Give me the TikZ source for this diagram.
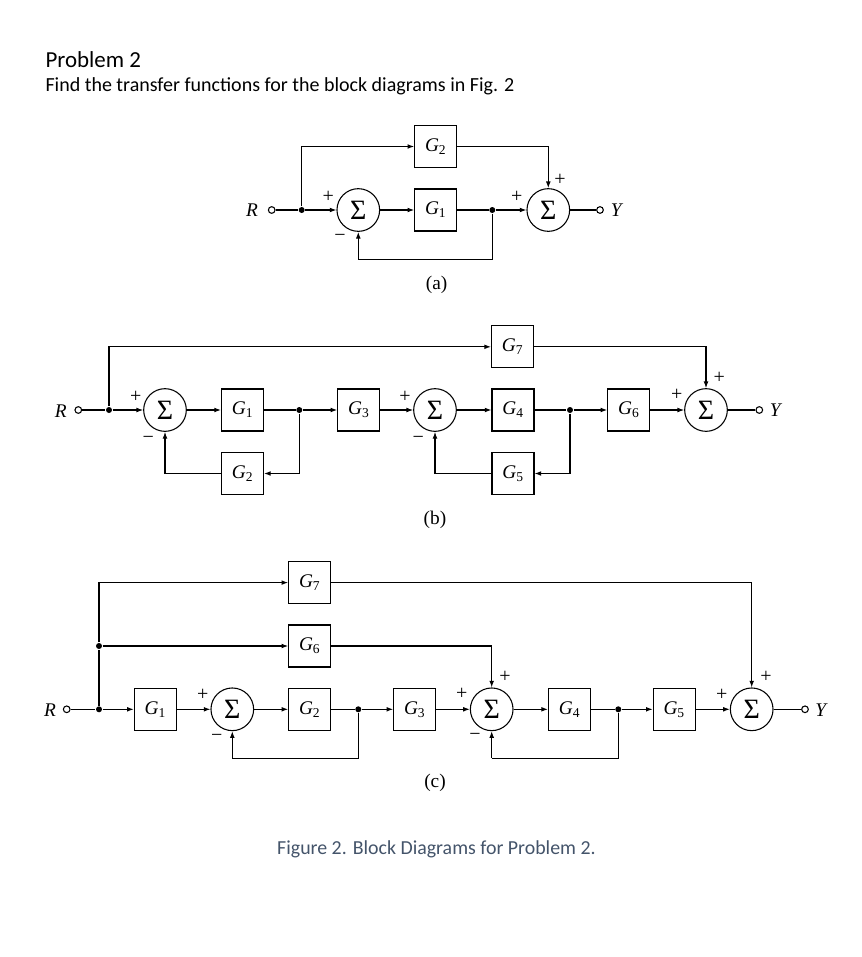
\documentclass[tikz,border=0pt]{standalone}
\usepackage{fontspec}
\setmainfont{Carlito}
\newfontfamily\tms{Liberation Serif}
\usetikzlibrary{arrows.meta}
\definecolor{capblue}{HTML}{44546A}
\newcommand{\gsub}[1]{\textit{G}\textsubscript{#1}}

\begin{document}
\begin{tikzpicture}
	[x=0.75pt,y=-0.75pt,line width=0.8pt,>={Latex[length=5pt,width=3.6pt]},
	every node/.style={font=\tms\fontsize{14.5}{17}\selectfont},
	blk/.style={draw,minimum width=31.5pt,minimum height=31.5pt,inner sep=0pt},
	sumb/.style={draw,circle,minimum size=32pt,inner sep=0pt,font=\tms\fontsize{21}{24}\selectfont},
	dot/.style={circle,fill,minimum size=4.5pt,inner sep=0pt},
	port/.style={circle,draw,fill=white,minimum size=5pt,inner sep=0pt},
	sgn/.style={font=\tms\fontsize{15}{17}\selectfont,inner sep=0pt},
	txt/.style={anchor=base west,inner sep=0pt}]
	\useasboundingbox (0,0) rectangle (861,957);
	
	\node[txt,font=\fontsize{17.2}{20}\selectfont] (title) at (45,67) {Problem 2};
	\node[txt,font=\fontsize{15}{18}\selectfont] (task) at (45,91.7) {Find the transfer functions for the block diagrams in Fig. 2};
	
	% (a)
	\node (aRt) at (252,210) {\textit{R}};
	\node[port] (aR) at (271.7,210) {};
	\node[dot] (aJ) at (301.7,210) {};
	\node[sumb] (aS1) at (358.3,210) {Σ};
	\node[blk] (aG1) at (435.7,210) {\gsub{1}};
	\node[blk] (aG2) at (435.7,146.5) {\gsub{2}};
	\node[dot] (aJ2) at (492.3,210) {};
	\node[sumb] (aS2) at (548.3,210) {Σ};
	\node[port] (aY) at (600,210) {};
	\node (aYt) at (617,210) {\textit{Y}};
	\coordinate (aFb) at (358.3,259.3);
	\node[sgn] (aP1) at (328.3,196.7) {+};
	\node[sgn] (aM1) at (340,238.3) {−};
	\node[sgn] (aP2) at (516.7,196.7) {+};
	\node[sgn] (aP3) at (560,180) {+};
	\node (aCap) at (436.7,285) {(a)};
	\foreach \from/\to in {aR/aJ,aG1/aJ2,aS2/aY}
	\draw (\from) -- (\to);
	\foreach \from/\to in {aJ/aS1,aS1/aG1,aJ2/aS2,aFb/aS1}
	\draw[->] (\from) -- (\to);
	\draw[->] (aJ) |- (aG2);
	\draw[->] (aG2) -| (aS2);
	\draw (aJ2) |- (aFb);
	
	% (b)
	\node (bRt) at (60.7,411) {\textit{R}};
	\node[port] (bR) at (78.3,410) {};
	\node[dot] (bJ) at (109,410) {};
	\node[sumb] (bS1) at (165,410) {Σ};
	\node[blk] (bG1) at (242.5,410) {\gsub{1}};
	\node[dot] (bJ2) at (299.3,410) {};
	\node[blk] (bG3) at (358.8,410) {\gsub{3}};
	\node[sumb] (bS2) at (435,410) {Σ};
	\node[blk] (bG4) at (513,410) {\gsub{4}};
	\node[dot] (bJ3) at (570,410) {};
	\node[blk] (bG6) at (628.8,410) {\gsub{6}};
	\node[sumb] (bS3) at (706,410) {Σ};
	\node[port] (bY) at (759.3,410) {};
	\node (bYt) at (776,410) {\textit{Y}};
	\node[blk] (bG2) at (242.5,473.5) {\gsub{2}};
	\node[blk] (bG5) at (513,473.5) {\gsub{5}};
	\node[blk] (bG7) at (512.5,346.8) {\gsub{7}};
	\node[sgn] (bP1) at (135.7,396.7) {+};
	\node[sgn] (bM1) at (148.3,440) {−};
	\node[sgn] (bP2) at (405,396.7) {+};
	\node[sgn] (bM2) at (418.3,440) {−};
	\node[sgn] (bP3) at (676.7,395) {+};
	\node[sgn] (bP4) at (719.3,378.3) {+};
	\node (bCap) at (435,520) {(b)};
	\foreach \from/\to in {bR/bJ,bG1/bJ2,bG4/bJ3,bS3/bY}
	\draw (\from) -- (\to);
	\foreach \from/\to in {bJ/bS1,bS1/bG1,bJ2/bG3,bG3/bS2,bS2/bG4,bJ3/bG6,bG6/bS3}
	\draw[->] (\from) -- (\to);
	\foreach \from/\to in {bJ/bG7,bJ2/bG2,bJ3/bG5}
	\draw[->] (\from) |- (\to);
	\foreach \from/\to in {bG7/bS3,bG2/bS1,bG5/bS2}
	\draw[->] (\from) -| (\to);
	
	% (c)
	\node (cRt) at (50,710) {\textit{R}};
	\node[port] (cR) at (66.7,709.3) {};
	\node[dot] (cJ) at (99,709.3) {};
	\node[dot] (cJm) at (99,646) {};
	\node[blk] (cG1) at (155.3,709.3) {\gsub{1}};
	\node[sumb] (cS1) at (232.3,709.3) {Σ};
	\node[blk] (cG2) at (309.7,709.3) {\gsub{2}};
	\node[dot] (cJ2) at (358.3,709.3) {};
	\node[blk] (cG3) at (414.7,709.3) {\gsub{3}};
	\node[sumb] (cS2) at (491.7,709.3) {Σ};
	\node[blk] (cG4) at (569.5,709.3) {\gsub{4}};
	\node[dot] (cJ3) at (618.3,709.3) {};
	\node[blk] (cG5) at (674.2,709.3) {\gsub{5}};
	\node[sumb] (cS3) at (751.7,709.3) {Σ};
	\node[port] (cY) at (805,709.3) {};
	\node (cYt) at (821.7,710) {\textit{Y}};
	\node[blk] (cG6) at (309.7,646) {\gsub{6}};
	\node[blk] (cG7) at (309.7,582.6) {\gsub{7}};
	\coordinate (cFb1) at (232.3,758.3);
	\coordinate (cFb2) at (491.7,758.3);
	\node[sgn] (cP1) at (202.7,695) {+};
	\node[sgn] (cM1) at (216.7,738.3) {−};
	\node[sgn] (cP2) at (461.7,694) {+};
	\node[sgn] (cP3) at (505,676.7) {+};
	\node[sgn] (cM2) at (475,736.7) {−};
	\node[sgn] (cP4) at (721.7,695) {+};
	\node[sgn] (cP5) at (766,676.7) {+};
	\node (cCap) at (435,783) {(c)};
	\foreach \from/\to in {cR/cJ,cJ/cJm,cG2/cJ2,cG4/cJ3,cS3/cY}
	\draw (\from) -- (\to);
	\foreach \from/\to in {cJ/cG1,cG1/cS1,cS1/cG2,cJ2/cG3,cG3/cS2,cS2/cG4,cJ3/cG5,cG5/cS3,cJm/cG6,cFb1/cS1,cFb2/cS2}
	\draw[->] (\from) -- (\to);
	\draw[->] (cJm) |- (cG7);
	\foreach \from/\to in {cG6/cS2,cG7/cS3}
	\draw[->] (\from) -| (\to);
	\draw (cJ2) |- (cFb1);
	\draw (cJ3) |- (cFb2);
	
	\node[txt,font=\fontsize{14.9}{17}\selectfont,text=capblue] (fig) at (276.7,854.3) {Figure 2. Block Diagrams for Problem 2.};
\end{tikzpicture}
\end{document}
